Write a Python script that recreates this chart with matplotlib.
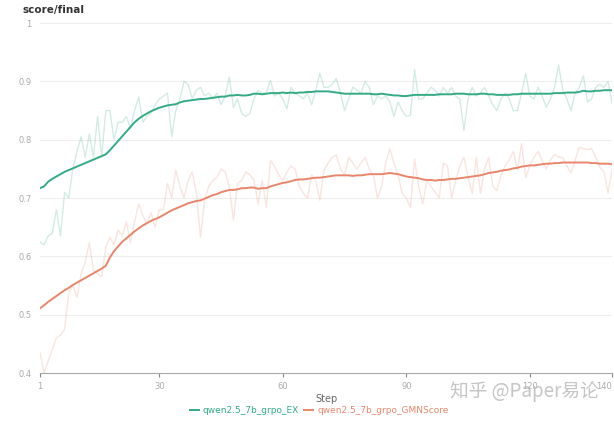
import matplotlib
matplotlib.use("Agg")
import matplotlib.pyplot as plt
from matplotlib.ticker import FuncFormatter

# steps 1..140
steps = list(range(1, 141))

# raw (unsmoothed) values
ex_raw = [
    0.625, 0.62, 0.635, 0.64, 0.68, 0.635, 0.71, 0.70, 0.75, 0.78,
    0.805, 0.77, 0.81, 0.77, 0.84, 0.77, 0.85, 0.85, 0.80, 0.83,
    0.83, 0.84, 0.82, 0.85, 0.873, 0.83, 0.84, 0.845, 0.86, 0.87,
    0.875, 0.88, 0.805, 0.85, 0.87, 0.90, 0.895, 0.87, 0.885, 0.89,
    0.875, 0.88, 0.87, 0.88, 0.86, 0.875, 0.908, 0.855, 0.87, 0.845,
    0.84, 0.845, 0.87, 0.885, 0.88, 0.88, 0.902, 0.875, 0.88, 0.87,
    0.853, 0.89, 0.88, 0.875, 0.87, 0.88, 0.86, 0.885, 0.914, 0.89,
    0.89, 0.895, 0.905, 0.88, 0.85, 0.87, 0.89, 0.885, 0.88, 0.90,
    0.89, 0.86, 0.875, 0.87, 0.875, 0.865, 0.84, 0.865, 0.85, 0.84,
    0.842, 0.92, 0.87, 0.87, 0.88, 0.89, 0.885, 0.875, 0.89, 0.88,
    0.89, 0.875, 0.87, 0.816, 0.87, 0.89, 0.875, 0.88, 0.89, 0.875,
    0.86, 0.85, 0.87, 0.88, 0.87, 0.85, 0.85, 0.88, 0.914, 0.875,
    0.87, 0.89, 0.875, 0.856, 0.87, 0.89, 0.928, 0.885, 0.87, 0.85,
    0.88, 0.89, 0.91, 0.865, 0.87, 0.89, 0.895, 0.89, 0.90, 0.862,
]

ex_smooth = [
    0.717, 0.72, 0.728, 0.733, 0.737, 0.741, 0.745, 0.748, 0.751, 0.754,
    0.757, 0.76, 0.763, 0.766, 0.769, 0.772, 0.775, 0.782, 0.79, 0.798,
    0.806, 0.814, 0.822, 0.83, 0.836, 0.841, 0.845, 0.849, 0.852, 0.855,
    0.857, 0.859, 0.86, 0.861, 0.864, 0.866, 0.867, 0.868, 0.869, 0.87,
    0.87, 0.871, 0.872, 0.873, 0.874, 0.874, 0.876, 0.876, 0.877, 0.876,
    0.876, 0.877, 0.879, 0.879, 0.878, 0.879, 0.88, 0.88, 0.88, 0.881,
    0.88, 0.881, 0.88, 0.881, 0.881, 0.882, 0.882, 0.883, 0.883, 0.883,
    0.883, 0.882, 0.881, 0.88, 0.879, 0.879, 0.879, 0.879, 0.879, 0.879,
    0.879, 0.878, 0.878, 0.879, 0.878, 0.877, 0.876, 0.876, 0.875, 0.875,
    0.876, 0.877, 0.877, 0.877, 0.877, 0.877, 0.877, 0.878, 0.878, 0.878,
    0.878, 0.879, 0.879, 0.879, 0.878, 0.878, 0.878, 0.879, 0.879, 0.878,
    0.878, 0.877, 0.877, 0.877, 0.877, 0.878, 0.878, 0.879, 0.879, 0.879,
    0.879, 0.879, 0.879, 0.879, 0.879, 0.88, 0.88, 0.88, 0.881, 0.881,
    0.881, 0.882, 0.884, 0.883, 0.883, 0.884, 0.884, 0.885, 0.885, 0.885,
]

gmn_raw = [
    0.435, 0.40, 0.42, 0.44, 0.46, 0.465, 0.475, 0.537, 0.55, 0.53,
    0.57, 0.59, 0.623, 0.576, 0.57, 0.565, 0.616, 0.633, 0.62, 0.645,
    0.635, 0.659, 0.623, 0.66, 0.69, 0.67, 0.657, 0.675, 0.65, 0.68,
    0.68, 0.725, 0.70, 0.748, 0.72, 0.70, 0.73, 0.745, 0.71, 0.633,
    0.696, 0.72, 0.73, 0.735, 0.75, 0.745, 0.72, 0.662, 0.725, 0.73,
    0.745, 0.74, 0.73, 0.69, 0.73, 0.684, 0.765, 0.754, 0.74, 0.73,
    0.745, 0.755, 0.75, 0.72, 0.708, 0.70, 0.74, 0.73, 0.696, 0.748,
    0.76, 0.77, 0.774, 0.75, 0.74, 0.77, 0.76, 0.75, 0.76, 0.77,
    0.75, 0.74, 0.70, 0.72, 0.76, 0.785, 0.76, 0.74, 0.708, 0.70,
    0.684, 0.767, 0.72, 0.69, 0.73, 0.72, 0.71, 0.70, 0.76, 0.755,
    0.70, 0.73, 0.755, 0.77, 0.736, 0.708, 0.77, 0.708, 0.75, 0.77,
    0.72, 0.713, 0.74, 0.755, 0.765, 0.78, 0.748, 0.794, 0.735, 0.755,
    0.77, 0.78, 0.765, 0.75, 0.765, 0.775, 0.77, 0.77, 0.755, 0.743,
    0.765, 0.787, 0.785, 0.783, 0.785, 0.77, 0.753, 0.745, 0.708, 0.75,
]

gmn_smooth = [
    0.511, 0.516, 0.522, 0.527, 0.532, 0.537, 0.542, 0.546, 0.551, 0.555,
    0.559, 0.563, 0.567, 0.571, 0.575, 0.579, 0.584, 0.598, 0.609, 0.617,
    0.625, 0.631, 0.637, 0.643, 0.648, 0.653, 0.657, 0.661, 0.664, 0.667,
    0.671, 0.675, 0.679, 0.682, 0.685, 0.688, 0.691, 0.693, 0.695, 0.696,
    0.699, 0.702, 0.705, 0.707, 0.71, 0.712, 0.714, 0.714, 0.715, 0.717,
    0.717, 0.718, 0.718, 0.716, 0.717, 0.717, 0.72, 0.722, 0.724, 0.726,
    0.727, 0.729, 0.731, 0.732, 0.732, 0.733, 0.734, 0.735, 0.735, 0.736,
    0.737, 0.738, 0.739, 0.739, 0.739, 0.739, 0.738, 0.739, 0.739, 0.74,
    0.741, 0.741, 0.741, 0.741, 0.742, 0.743, 0.742, 0.741, 0.739, 0.737,
    0.736, 0.735, 0.734, 0.732, 0.731, 0.731, 0.73, 0.731, 0.731, 0.732,
    0.733, 0.733, 0.734, 0.735, 0.736, 0.737, 0.738, 0.739, 0.741, 0.743,
    0.744, 0.745, 0.747, 0.748, 0.749, 0.751, 0.752, 0.754, 0.755, 0.756,
    0.756, 0.757, 0.758, 0.759, 0.759, 0.76, 0.76, 0.761, 0.761, 0.761,
    0.761, 0.761, 0.761, 0.761, 0.76, 0.76, 0.759, 0.759, 0.759, 0.758,
]

x_ticks = [1, 30, 60, 90, 120, 140]
y_ticks = [0.4, 0.5, 0.6, 0.7, 0.8, 0.9, 1.0]
labels = ["qwen2.5_7b_grpo_EX", "qwen2.5_7b_grpo_GMNScore"]

green = "#35ab83"
orange = "#e8866c"

fig = plt.figure(figsize=(6.14, 4.21), dpi=100)
ax = fig.add_axes([0.065, 0.114, 0.932, 0.831])

# faint raw curves behind the smoothed ones
ax.plot(steps, ex_raw, color=green, alpha=0.22, lw=1.0)
ax.plot(steps, gmn_raw, color=orange, alpha=0.22, lw=1.0)
l1, = ax.plot(steps, ex_smooth, color=green, lw=1.4, label=labels[0])
l2, = ax.plot(steps, gmn_smooth, color=orange, lw=1.4, label=labels[1])

ax.set_xlim(1, 140)
ax.set_ylim(0.4, 1.0)
ax.set_xticks(x_ticks)
ax.set_yticks(y_ticks)
ax.yaxis.set_major_formatter(FuncFormatter(lambda v, p: "%g" % round(v, 2)))
ax.grid(axis="y", color="#ededed", lw=0.8)
ax.set_axisbelow(True)

for side in ["top", "right", "left"]:
    ax.spines[side].set_visible(False)
ax.spines["bottom"].set_color("#aaaaaa")
ax.tick_params(axis="y", length=0, labelsize=6, labelcolor="#aaaaaa", pad=6)
ax.tick_params(axis="x", length=3, color="#888888", labelsize=6, labelcolor="#aaaaaa")
# last tick label sits at the right edge
ax.get_xticklabels()[-1].set_horizontalalignment("right")

ax.set_xlabel("Step", fontsize=7, color="#666666", labelpad=2)
fig.text(0.036, 0.968, "score/final", fontsize=7.5, color="#333333", fontweight="bold")

fig.legend(handles=[l1, l2], loc="lower center", bbox_to_anchor=(0.52, -0.005),
           ncol=2, frameon=False, fontsize=6.5, handlelength=1.0,
           handletextpad=0.4, columnspacing=0.6, labelcolor="linecolor")

fig.text(0.975, 0.058, "知乎 @Paper易论", fontsize=13.5, color="#bbbbbb", alpha=0.85,
         ha="right", family=["Noto Sans CJK SC", "DejaVu Sans"])

fig.savefig("out.png", dpi=100)
